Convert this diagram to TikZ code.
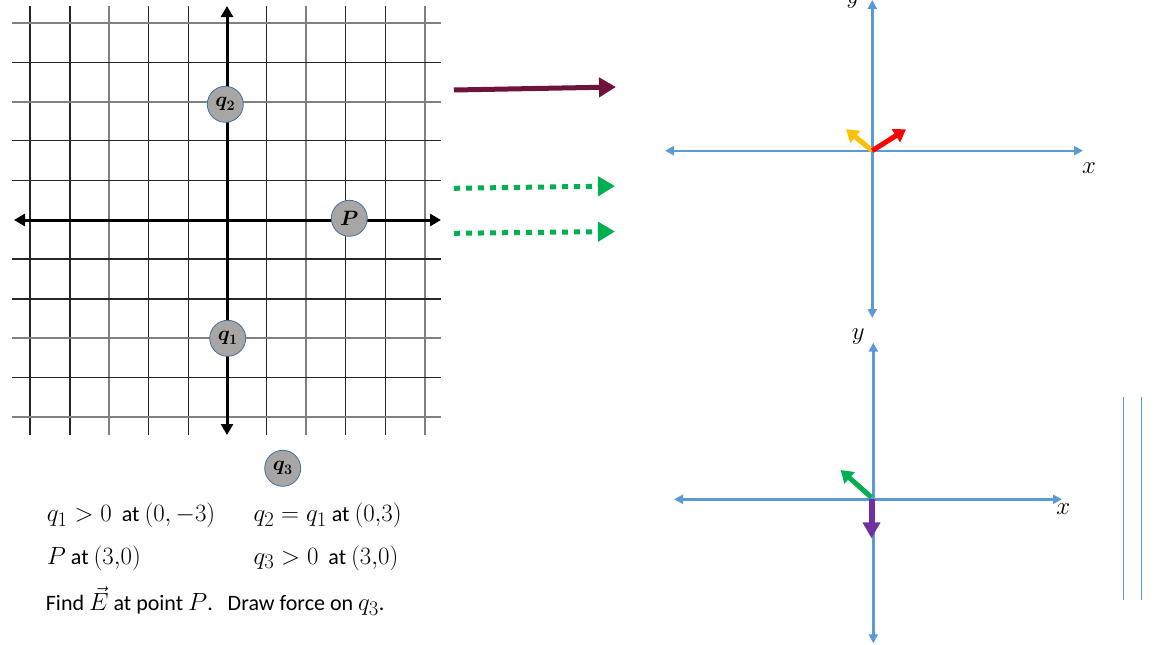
\documentclass[tikz,border=0pt]{standalone}
\usepackage[no-math]{fontspec}
\setmainfont{Carlito}
\usepackage{amsmath}
\usepackage{bm}
\usetikzlibrary{arrows.meta}
\definecolor{chgray}{RGB}{168,165,165}
\definecolor{chborder}{RGB}{70,110,160}
\definecolor{axblue}{RGB}{91,155,213}
\definecolor{maroonc}{RGB}{110,20,58}
\definecolor{greenc}{RGB}{0,176,80}
\definecolor{redc}{RGB}{255,0,0}
\definecolor{yellowc}{RGB}{255,192,0}
\definecolor{purplec}{RGB}{112,48,160}
\newcommand{\mth}[1]{{\fontsize{24.88}{25}\selectfont$#1$}}
\begin{document}
\begin{tikzpicture}[x=1pt,y=-1pt,
  gridline/.style={line width=1.5pt, draw=black!85},
  gridsoft/.style={line width=2.2pt, draw=black!50},
  charge/.style={circle, fill=chgray, draw=chborder, line width=0.8pt, minimum size=36pt, inner sep=0pt, font=\fontsize{20.74}{21}\selectfont},
  baxis/.style={line width=3pt, {Triangle[length=11pt,width=12pt]}-{Triangle[length=11pt,width=12pt]}},
  blueaxis/.style={draw=axblue, line width=2.4pt, {Triangle[length=9pt,width=9pt]}-{Triangle[length=9pt,width=9pt]}},
  bigvec/.style={line width=5pt, -{Triangle[length=17pt,width=19pt]}},
  dotvec/.style={line width=5pt, dash pattern=on 6pt off 6pt, -{Triangle[length=17pt,width=19pt]}},
  smallvec/.style={line width=5pt, -{Triangle[length=12pt,width=15pt]}},
  axlabel/.style={inner sep=0pt, font=\fontsize{24.88}{25}\selectfont},
  txt/.style={anchor=base west, inner sep=0pt, font=\fontsize{22}{22}\selectfont}
]
\useasboundingbox (0,0) rectangle (1168,645);

% grid
\foreach \x in {30,70,148.7,188.7,266.7,345.3,385.3}
  \draw[gridline] (\x,6) -- (\x,435);
\foreach \x in {109.3,306,424.7}
  \draw[gridsoft] (\x,6) -- (\x,435);
\foreach \y in {62.3,140.7,180.3,259,299,377.3}
  \draw[gridline] (12,\y) -- (441,\y);
\foreach \y in {23.3,101.7,337.7,416.7}
  \draw[gridsoft] (12,\y) -- (441,\y);

% black axes
\coordinate (xl) at (14,220);
\coordinate (xr) at (441,220);
\coordinate (yt) at (227,6);
\coordinate (yb) at (227,435);
\draw[baxis] (xl) -- (xr);
\draw[baxis] (yt) -- (yb);

% charges
\node[charge] (q2) at (225.3,104.3) {$\bm{q_2}$};
\node[charge] (q1) at (227.7,338.3) {$\bm{q_1}$};
\node[charge] (P)  at (349.3,218.3) {$\bm{P}$};
\node[charge] (q3) at (282.7,468.3) {$\bm{q_3}$};

% middle arrows
\coordinate (m1s) at (454,90);
\coordinate (m1e) at (616,87);
\draw[bigvec, maroonc] (m1s) -- (m1e);
\coordinate (m2s) at (454,188.3);
\coordinate (m2e) at (615,186);
\draw[dotvec, greenc] (m2s) -- (m2e);
\coordinate (m3s) at (454,233.3);
\coordinate (m3e) at (615,231.5);
\draw[dotvec, greenc] (m3s) -- (m3e);

% top right axes
\coordinate (O1) at (872.3,150.7);
\coordinate (t-l) at (665,150.7);
\coordinate (t-r) at (1083,150.7);
\coordinate (t-t) at (872.3,0);
\coordinate (t-b) at (872.3,318);
\draw[blueaxis] (t-l) -- (t-r);
\draw[blueaxis] (t-t) -- (t-b);
\node[axlabel] (tylab) at (853,1) {$y$};
\node[axlabel] (txlab) at (1089,168) {$x$};
\coordinate (redtip) at (906,129.3);
\coordinate (yeltip) at (846,129.3);
\draw[smallvec, yellowc] (O1) -- (yeltip);
\draw[smallvec, redc] (O1) -- (redtip);

% bottom right axes
\coordinate (O2) at (873.3,499.3);
\coordinate (b-l) at (674,499.3);
\coordinate (b-r) at (1062,499.3);
\coordinate (b-t) at (873.3,342.7);
\coordinate (b-b) at (873.3,643.3);
\draw[blueaxis] (b-l) -- (b-r);
\draw[blueaxis] (b-t) -- (b-b);
\node[axlabel] (bylab) at (858.3,337) {$y$};
\node[axlabel] (bxlab) at (1063.3,509) {$x$};
\coordinate (O2g) at (871.5,497.5);
\coordinate (greentip) at (840.7,470);
\draw[smallvec, greenc] (O2g) -- (greentip);
\coordinate (O2p) at (871.5,499.3);
\coordinate (purptip) at (871.5,538.3);
\draw[line width=6pt, purplec, -{Triangle[length=16pt,width=17pt]}] (O2p) -- (purptip);

% thin lines at right
\coordinate (v1t) at (1123.3,397.3);
\coordinate (v1b) at (1123.3,600);
\coordinate (v2t) at (1141.3,397.3);
\coordinate (v2b) at (1141.3,600);
\draw[axblue, line width=1pt] (v1t) -- (v1b);
\draw[axblue, line width=1pt] (v2t) -- (v2b);

% text
\node[txt] (l1a) at (46.7,521.7) {\mth{q_1>0}\ \ at \mth{(0,-3)}};
\node[txt] (l1b) at (253.3,521.7) {\mth{q_2=q_1} at \mth{(0{,}3)}};
\node[txt] (l2a) at (46.7,564) {\mth{P} at \mth{(3{,}0)}};
\node[txt] (l2b) at (253.3,564) {\mth{q_3>0}\ \ at \mth{(3{,}0)}};
\node[txt] (l3) at (45.7,610.7) {Find \mth{\vec{E}} at point \mth{P}.\ \ \ Draw force on \mth{q_3}.};
\end{tikzpicture}
\end{document}
